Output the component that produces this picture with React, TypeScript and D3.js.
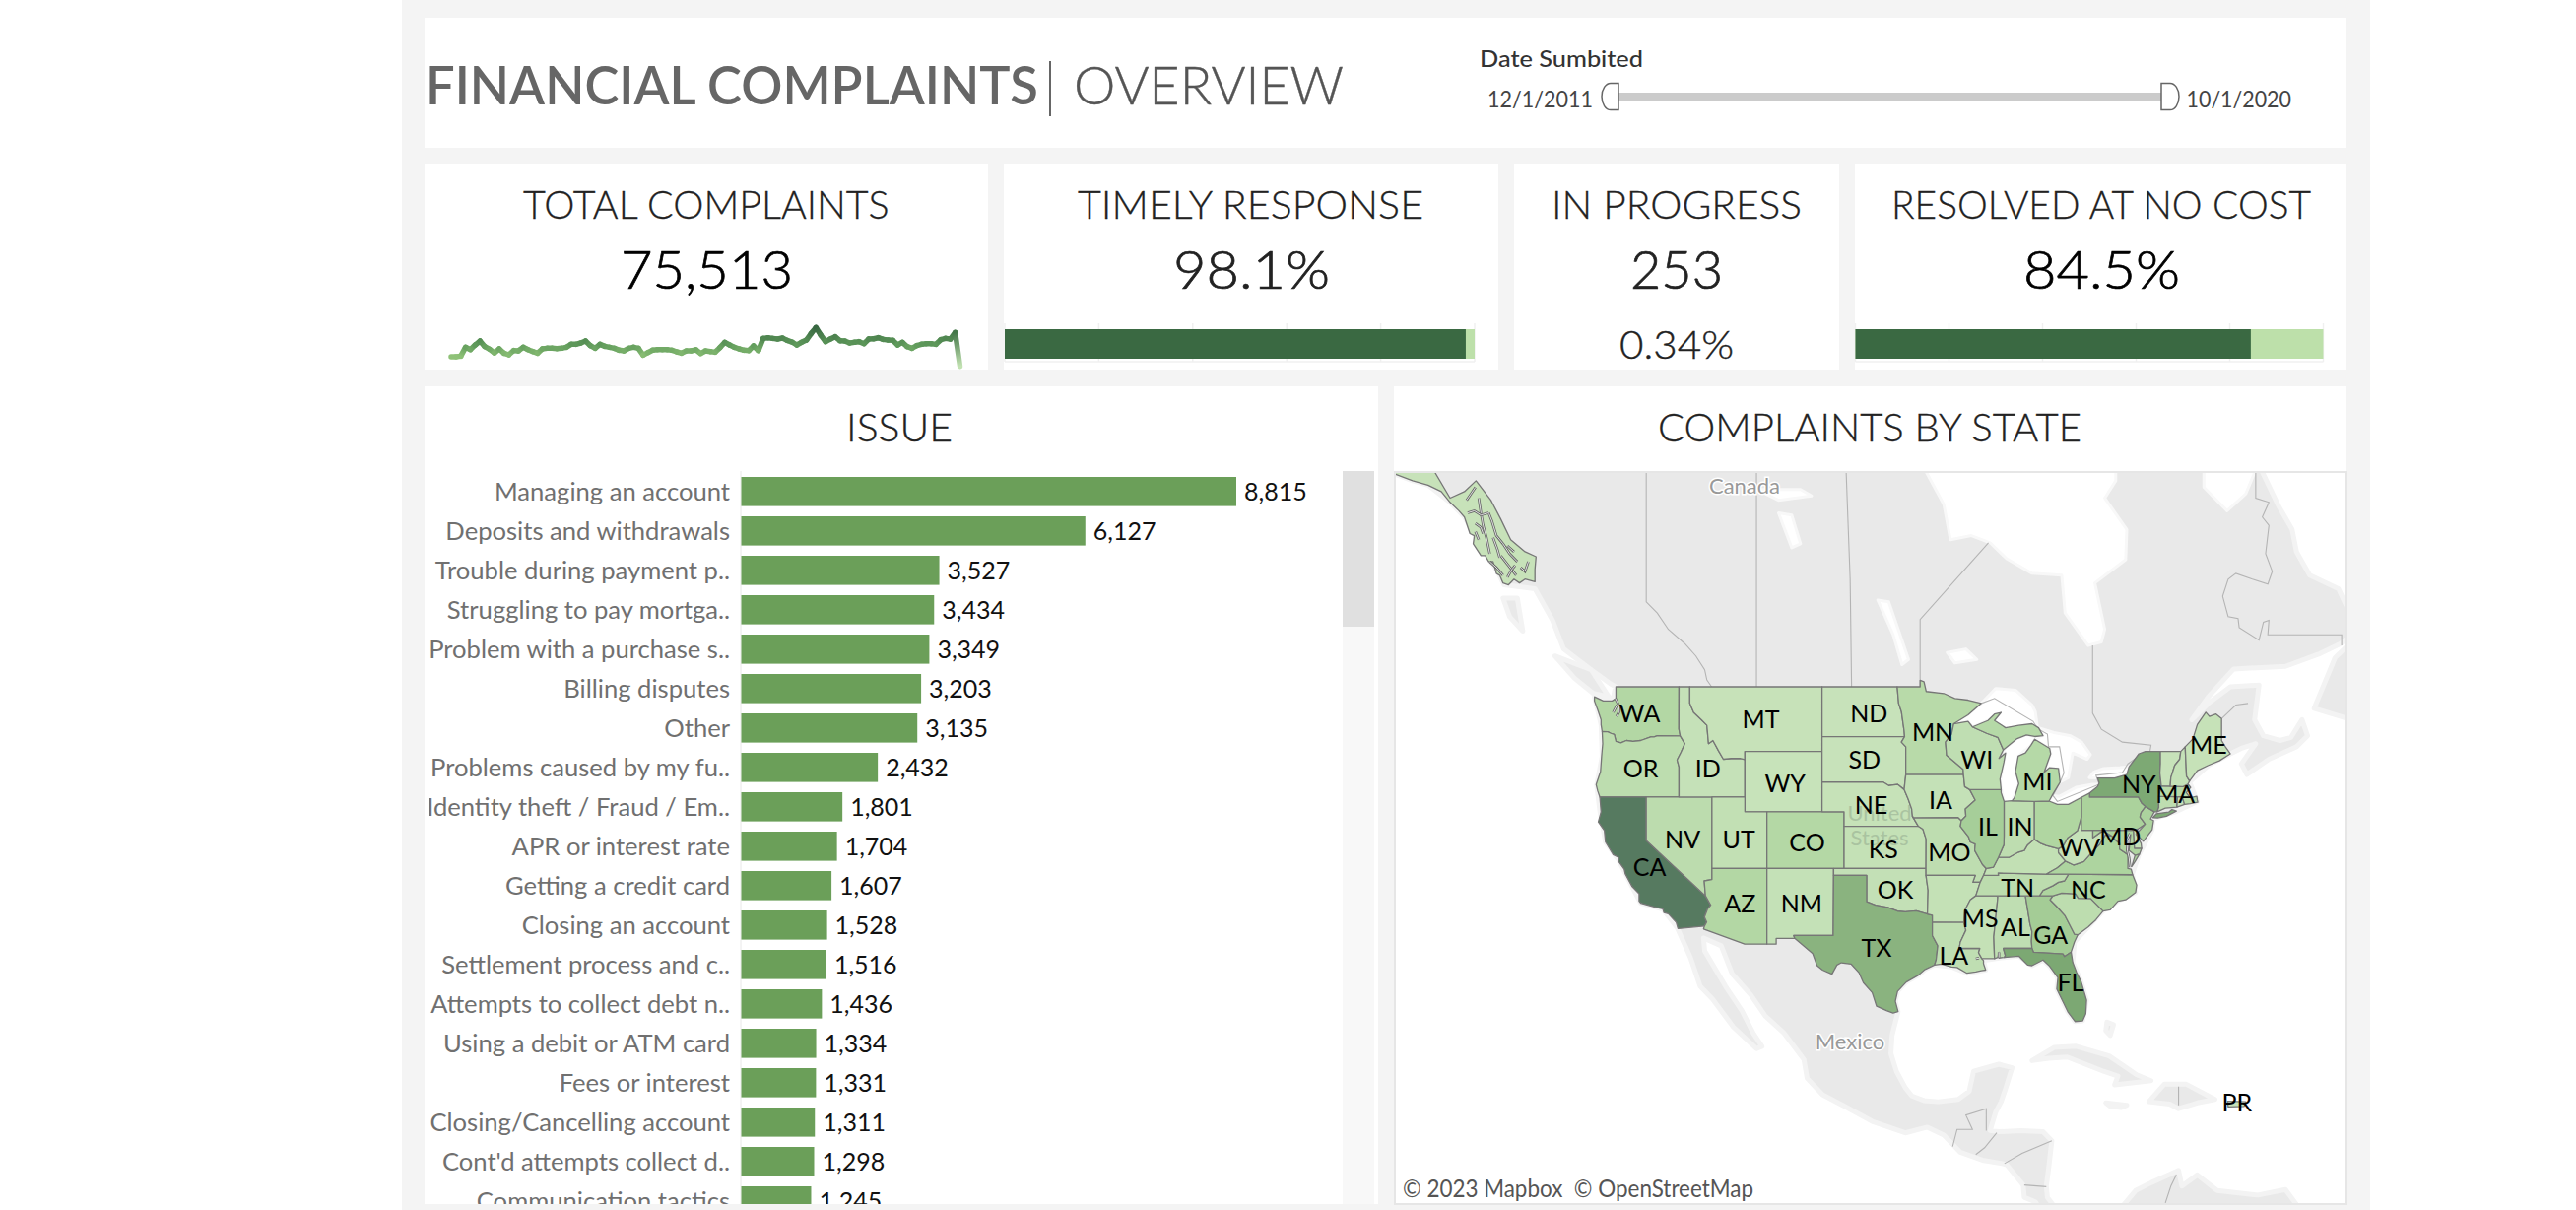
import * as d3 from "d3";

type LonLat = [number, number];

const FONT = "Lato, 'Open Sans', sans-serif";

// ---- data ----
const issueNames = [
  "Managing an account",
  "Deposits and withdrawals",
  "Trouble during payment p..",
  "Struggling to pay mortga..",
  "Problem with a purchase s..",
  "Billing disputes",
  "Other",
  "Problems caused by my fu..",
  "Identity theft / Fraud / Em..",
  "APR or interest rate",
  "Getting a credit card",
  "Closing an account",
  "Settlement process and c..",
  "Attempts to collect debt n..",
  "Using a debit or ATM card",
  "Fees or interest",
  "Closing/Cancelling account",
  "Cont'd attempts collect d..",
  "Communication tactics",
];
const issueCounts = [
  8815, 6127, 3527, 3434, 3349, 3203, 3135, 2432, 1801, 1704, 1607, 1528, 1516,
  1436, 1334, 1331, 1311, 1298, 1245,
];

// complaints per month, Dec 2011 - Oct 2020 (estimated from the sparkline)
const monthlyComplaints = [
  429, 429, 455, 806, 715, 897, 1053, 832, 728, 585, 741, 572, 507, 676, 663,
  806, 715, 637, 572, 741, 767, 767, 754, 767, 806, 923, 923, 975, 1053, 871,
  767, 923, 845, 806, 767, 689, 663, 767, 806, 767, 494, 598, 689, 715, 715,
  715, 689, 624, 572, 663, 663, 702, 559, 663, 637, 611, 793, 1001, 897, 806,
  741, 689, 676, 858, 676, 1157, 1183, 1157, 1131, 1170, 1079, 1014, 897, 1001,
  1092, 1352, 1586, 1287, 1027, 1131, 1222, 1066, 1053, 975, 1001, 1027, 949,
  1131, 1144, 1183, 1118, 1092, 1079, 897, 1001, 832, 767, 871, 923, 949, 949,
  923, 1105, 1157, 1131, 1391, 52,
];

const timelyShare = 0.981;
const noCostShare = 0.845;
const shareTicks = [0, 0.2, 0.4, 0.6, 0.8, 1];

const stateCounts: Record<string, number> = {
  AK: 120, AL: 700, AR: 350, AZ: 1700, CA: 10500, CO: 1600, CT: 800, DE: 250,
  FL: 6500, GA: 3300, IA: 300, ID: 250, IL: 3000, IN: 800, KS: 350, KY: 500,
  LA: 700, MA: 1300, MD: 2000, ME: 200, MI: 1500, MN: 1300, MO: 800, MS: 350,
  MT: 120, NC: 2100, ND: 80, NE: 200, NH: 300, NJ: 2300, NM: 300, NV: 1000,
  NY: 6400, OH: 1900, OK: 400, OR: 900, PA: 2500, PR: 200, RI: 250, SC: 900,
  SD: 90, TN: 1000, TX: 5500, UT: 500, VA: 2200, VT: 100, WA: 1700, WI: 700,
  WV: 150, WY: 70,
};

const stateRings: Record<string, LonLat[]> = {
  WA: [[-124.7,48.4],[-123.9,48.15],[-123.1,48.15],[-122.75,48.3],[-122.75,49],[-117.03,49],[-117.04,46.42],[-116.92,45.99],[-118.98,46],[-119.3,45.93],[-119.6,45.92],[-120.5,45.7],[-121.2,45.65],[-121.8,45.7],[-122.3,45.55],[-122.75,45.65],[-122.9,46.08],[-123.2,46.15],[-123.5,46.25],[-124,46.27],[-124.1,46.7],[-124.1,47],[-124.4,47.6],[-124.7,48.15]],
  OR: [[-124,46.27],[-123.5,46.25],[-123.2,46.15],[-122.9,46.08],[-122.75,45.65],[-122.3,45.55],[-121.8,45.7],[-121.2,45.65],[-120.5,45.7],[-119.6,45.92],[-119.3,45.93],[-118.98,46],[-116.92,45.99],[-116.5,45.5],[-116.85,44.95],[-117.2,44.45],[-117.03,44],[-117.03,42],[-124.21,42],[-124.4,42.4],[-124.55,42.84],[-124.15,43.7],[-124.05,44.7],[-123.95,45.5]],
  CA: [[-124.21,42],[-120,42],[-120,39],[-114.63,35],[-114.15,34.3],[-114.45,34],[-114.72,33.4],[-114.52,33.03],[-114.72,32.72],[-117.12,32.53],[-117.28,33],[-118,33.65],[-118.4,33.75],[-118.5,34.03],[-119.2,34.15],[-120.5,34.45],[-120.65,34.6],[-120.65,35.15],[-121.3,35.7],[-121.9,36.6],[-122,36.95],[-122.5,37.5],[-122.5,37.8],[-123,38],[-123.7,38.9],[-123.8,39.7],[-124.35,40.3],[-124.1,41]],
  NV: [[-120,42],[-114.04,42],[-114.04,36.2],[-114.74,36.1],[-114.63,35],[-120,39]],
  ID: [[-117.03,49],[-116.05,49],[-116.05,48],[-115.7,47.45],[-115,47],[-114.5,46.65],[-114.35,45.5],[-113.95,45.7],[-113.45,45.05],[-113,44.5],[-112.3,44.55],[-111.5,44.55],[-111.05,44.47],[-111.05,42],[-117.03,42],[-117.03,44],[-117.2,44.45],[-116.85,44.95],[-116.5,45.5],[-116.92,45.99],[-117.04,46.42]],
  MT: [[-116.05,49],[-104.05,49],[-104.05,45],[-111.05,45],[-111.05,44.47],[-111.5,44.55],[-112.3,44.55],[-113,44.5],[-113.45,45.05],[-113.95,45.7],[-114.35,45.5],[-114.5,46.65],[-115,47],[-115.7,47.45],[-116.05,48]],
  WY: [[-111.05,45],[-104.05,45],[-104.05,41],[-111.05,41]],
  UT: [[-114.04,42],[-111.05,42],[-111.05,41],[-109.05,41],[-109.05,37],[-114.04,37]],
  CO: [[-109.05,41],[-102.05,41],[-102.05,37],[-109.05,37]],
  AZ: [[-114.04,37],[-109.05,37],[-109.05,31.33],[-111.07,31.33],[-114.8,32.5],[-114.72,32.72],[-114.52,33.03],[-114.72,33.4],[-114.45,34],[-114.15,34.3],[-114.63,35],[-114.74,36.1],[-114.04,36.2]],
  NM: [[-109.05,37],[-103,37],[-103.04,32],[-106.62,32],[-106.53,31.78],[-108.21,31.78],[-108.21,31.33],[-109.05,31.33]],
  ND: [[-104.05,49],[-97.23,49],[-97.1,48],[-96.85,47.5],[-96.6,46.3],[-96.56,45.94],[-104.05,45.94]],
  SD: [[-104.05,45.94],[-96.56,45.94],[-96.85,45.6],[-96.45,45.3],[-96.45,43.5],[-96.6,42.5],[-97.2,42.85],[-98,42.77],[-98.5,43],[-104.05,43]],
  NE: [[-104.05,43],[-98.5,43],[-98,42.77],[-97.2,42.85],[-96.6,42.5],[-96.25,41.9],[-95.92,41.2],[-95.85,40.7],[-95.31,40],[-102.05,40],[-102.05,41],[-104.05,41]],
  KS: [[-102.05,40],[-95.31,40],[-94.9,39.8],[-94.61,39.1],[-94.62,37],[-102.05,37]],
  OK: [[-103,37],[-94.62,37],[-94.62,36.5],[-94.43,35.4],[-94.49,33.64],[-95.5,33.88],[-96.5,33.8],[-97.2,33.85],[-98.1,34.13],[-99.2,34.3],[-100,34.56],[-100,36.5],[-103,36.5]],
  TX: [[-106.62,32],[-103.04,32],[-103,36.5],[-100,36.5],[-100,34.56],[-99.2,34.3],[-98.1,34.13],[-97.2,33.85],[-96.5,33.8],[-95.5,33.88],[-94.49,33.64],[-94.04,33.55],[-94.04,31.99],[-93.55,31.2],[-93.7,30.1],[-93.85,29.7],[-94.7,29.35],[-95.3,28.9],[-96.4,28.35],[-97.2,27.6],[-97.4,26.8],[-97.15,25.96],[-97.6,25.85],[-98.2,26.05],[-99.1,26.4],[-99.5,27.5],[-100.3,28.3],[-100.7,29.1],[-101.4,29.77],[-102.3,29.88],[-102.7,29.7],[-103.15,28.98],[-104,29.3],[-104.5,29.65],[-104.9,30.6],[-106,31.4],[-106.53,31.78]],
  MN: [[-97.23,49],[-95.15,49],[-95.15,49.38],[-94.8,49.3],[-94.6,48.72],[-93,48.6],[-92,48.3],[-90.8,48.2],[-89.6,48],[-90.8,47.3],[-92.1,46.75],[-92.3,46.1],[-92.85,45.6],[-92.75,44.75],[-91.25,43.85],[-91.22,43.5],[-96.45,43.5],[-96.45,45.3],[-96.85,45.6],[-96.56,45.94],[-96.6,46.3],[-96.85,47.5],[-97.1,48]],
  IA: [[-96.45,43.5],[-91.22,43.5],[-91.1,42.7],[-90.65,42.5],[-90.15,41.8],[-91.05,41.2],[-91,40.7],[-91.42,40.38],[-91.72,40.6],[-95.77,40.58],[-95.85,40.7],[-95.92,41.2],[-96.25,41.9],[-96.6,42.5]],
  MO: [[-95.77,40.58],[-91.72,40.6],[-91.42,40.38],[-91.5,40],[-90.75,39.25],[-90.6,38.9],[-90.15,38.75],[-90.2,38.3],[-89.5,37.3],[-89.15,37],[-89.4,36.5],[-89.7,36],[-90.37,36],[-90.15,36.5],[-94.62,36.5],[-94.62,37],[-94.61,39.1],[-94.9,39.8],[-95.31,40],[-95.85,40.7]],
  AR: [[-94.62,36.5],[-90.15,36.5],[-90.37,36],[-89.7,36],[-90.1,35],[-90.6,34.7],[-91.1,33.9],[-91.17,33],[-94.04,33.02],[-94.04,33.55],[-94.49,33.64],[-94.43,35.4]],
  LA: [[-94.04,33.02],[-91.17,33],[-91,32.4],[-91.5,31.5],[-91.6,31],[-89.73,31],[-89.85,30.67],[-89.55,30.2],[-89.4,30.05],[-89.4,29.8],[-89.2,29.3],[-89.6,29.25],[-90.1,29.15],[-90.9,29.05],[-91.8,29.5],[-92.3,29.55],[-93.2,29.77],[-93.85,29.7],[-93.7,30.1],[-93.55,31.2],[-94.04,31.99]],
  MS: [[-90.1,35],[-88.2,35],[-88.1,34.9],[-88.47,31.9],[-88.4,30.2],[-89.55,30.2],[-89.85,30.67],[-89.73,31],[-91.6,31],[-91.5,31.5],[-91,32.4],[-91.17,33],[-91.1,33.9],[-90.6,34.7]],
  AL: [[-88.2,35],[-85.6,35],[-85.18,32.87],[-85,32.3],[-85.05,31.55],[-85,31],[-87.6,31],[-87.42,30.45],[-87.5,30.3],[-88,30.25],[-88,30.7],[-88.1,30.3],[-88.4,30.2],[-88.47,31.9],[-88.1,34.9]],
  GA: [[-85.6,35],[-83.1,35],[-83.35,34.7],[-82.75,34.2],[-82,33.5],[-81.15,32.1],[-80.85,32.05],[-81.15,31.5],[-81.45,30.72],[-82.05,30.36],[-82.2,30.57],[-84.86,30.7],[-85,31],[-85.05,31.55],[-85,32.3],[-85.18,32.87]],
  FL: [[-87.6,31],[-85,31],[-84.86,30.7],[-82.2,30.57],[-82.05,30.36],[-81.45,30.72],[-81.3,29.9],[-80.95,29.1],[-80.55,28.4],[-80.05,26.9],[-80.12,25.8],[-80.4,25.2],[-81.1,25.15],[-81.75,25.95],[-82.15,26.7],[-82.75,27.8],[-82.65,28.7],[-83.4,29.6],[-84,30.1],[-85,29.65],[-85.4,29.7],[-86.2,30.4],[-87.5,30.3],[-87.42,30.45]],
  SC: [[-83.1,35],[-82.3,35.2],[-81.05,35.15],[-80.8,34.82],[-79.68,34.8],[-78.55,33.86],[-79.2,33.2],[-79.9,32.65],[-80.85,32.05],[-81.15,32.1],[-82,33.5],[-82.75,34.2],[-83.35,34.7]],
  NC: [[-84.32,35],[-83.1,35],[-82.3,35.2],[-81.05,35.15],[-80.8,34.82],[-79.68,34.8],[-78.55,33.86],[-77.9,33.95],[-77.2,34.6],[-76.5,34.7],[-75.6,35.25],[-75.5,35.8],[-75.87,36.55],[-81.68,36.59],[-82.05,36.1],[-82.6,36],[-83.1,35.75],[-84,35.4]],
  TN: [[-89.7,36],[-89.4,36.5],[-88.05,36.5],[-88.07,36.68],[-83.68,36.6],[-81.68,36.59],[-82.05,36.1],[-82.6,36],[-83.1,35.75],[-84,35.4],[-84.32,35],[-88.2,35],[-90.1,35]],
  KY: [[-89.4,36.5],[-89.15,37],[-88.5,37.1],[-88.05,37.8],[-87.1,37.8],[-86.3,38.15],[-85.7,38.3],[-85.4,38.7],[-84.8,39.1],[-84.2,38.8],[-83.7,38.65],[-82.6,38.42],[-82.6,38.15],[-81.97,37.54],[-82.7,37.05],[-83.68,36.6],[-88.07,36.68],[-88.05,36.5]],
  VA: [[-83.68,36.6],[-81.68,36.59],[-75.87,36.55],[-76,36.95],[-76.3,37],[-76.3,37.6],[-76.3,38],[-77.05,38.4],[-77.05,38.8],[-77.5,39.1],[-77.75,39.32],[-78.35,39.4],[-78.85,38.75],[-79.3,38.4],[-80.3,37.5],[-81.2,37.25],[-81.97,37.54],[-82.7,37.05]],
  WV: [[-82.6,38.42],[-82.2,38.6],[-81.75,39.2],[-80.87,39.7],[-80.52,40.64],[-80.52,39.72],[-79.48,39.72],[-79.48,39.2],[-78.75,39.6],[-78.4,39.62],[-77.75,39.32],[-78.35,39.4],[-78.85,38.75],[-79.3,38.4],[-80.3,37.5],[-81.2,37.25],[-81.97,37.54],[-82.6,38.15]],
  MD: [[-79.48,39.72],[-75.79,39.72],[-75.7,38.46],[-75.05,38.45],[-75.25,38.03],[-75.65,37.95],[-76.2,38.3],[-76.05,39.4],[-76.45,39.1],[-76.4,38.3],[-76.3,38],[-77.05,38.4],[-77.05,38.8],[-77.5,39.1],[-77.75,39.32],[-78.4,39.62],[-78.75,39.6],[-79.48,39.2]],
  DE: [[-75.79,39.72],[-75.4,39.8],[-75.55,39.45],[-75.1,38.8],[-75.05,38.45],[-75.7,38.46]],
  PA: [[-80.52,41.98],[-79.76,42.27],[-79.76,42],[-75.35,42],[-75.05,41.6],[-74.7,41.36],[-75.1,40.95],[-75.2,40.65],[-74.72,40.15],[-75.4,39.8],[-75.79,39.72],[-80.52,39.72],[-80.52,40.64]],
  NJ: [[-74.7,41.36],[-73.9,41],[-74.25,40.5],[-73.97,40.4],[-74.1,39.75],[-74.9,38.95],[-75.55,39.45],[-74.72,40.15],[-75.2,40.65],[-75.1,40.95]],
  NY: [[-79.76,42.27],[-79.05,42.7],[-78.9,42.95],[-79.05,43.27],[-77.5,43.27],[-76.4,43.5],[-76.2,44],[-75.3,44.85],[-74.7,45],[-73.35,45],[-73.35,44.2],[-73.4,43.6],[-73.27,42.75],[-73.5,42.05],[-73.5,41.3],[-73.65,41],[-73.9,41],[-74.7,41.36],[-75.05,41.6],[-75.35,42],[-79.76,42]],
  LI: [[-74.03,40.6],[-73.7,40.87],[-72.6,40.98],[-72.3,41.15],[-71.9,41.05],[-72.8,40.7],[-73.6,40.58]],
  CT: [[-73.5,42.05],[-71.8,42.02],[-71.85,41.32],[-72.9,41.25],[-73.65,41],[-73.5,41.3]],
  RI: [[-71.8,42.02],[-71.38,42.02],[-71.15,41.5],[-71.85,41.32]],
  MA: [[-73.5,42.05],[-73.27,42.75],[-71.3,42.7],[-70.85,42.87],[-70.6,42.65],[-71,42.3],[-70.65,41.95],[-70.05,42.05],[-70,41.8],[-69.95,41.65],[-70.65,41.55],[-71.15,41.5],[-71.38,42.02],[-71.8,42.02]],
  VT: [[-73.35,45],[-71.5,45],[-71.6,44.5],[-72.05,44.1],[-72.4,43.3],[-72.46,42.73],[-73.27,42.75],[-73.4,43.6],[-73.35,44.2]],
  NH: [[-71.5,45],[-71.1,45.3],[-70.98,43.4],[-70.7,43.07],[-70.85,42.87],[-71.3,42.7],[-72.46,42.73],[-72.4,43.3],[-72.05,44.1],[-71.6,44.5]],
  ME: [[-71.1,45.3],[-70.4,45.8],[-70,46.7],[-69.23,47.46],[-68.9,47.2],[-68.3,47.35],[-67.8,47.07],[-67.8,45.7],[-67.45,45.3],[-67,44.85],[-68,44.4],[-69,44.1],[-70,43.75],[-70.7,43.07],[-70.98,43.4]],
  OH: [[-84.8,41.7],[-83.45,41.73],[-82.7,41.5],[-81.7,41.5],[-80.52,41.98],[-80.52,40.64],[-80.87,39.7],[-81.75,39.2],[-82.2,38.6],[-82.6,38.42],[-83.7,38.65],[-84.2,38.8],[-84.8,39.1]],
  IN: [[-87.53,41.7],[-86.8,41.76],[-84.8,41.7],[-84.8,39.1],[-85.4,38.7],[-85.7,38.3],[-86.3,38.15],[-87.1,37.8],[-88.05,37.8],[-87.55,38.7],[-87.53,39.35]],
  IL: [[-90.65,42.5],[-87.8,42.5],[-87.8,42.3],[-87.53,41.7],[-87.53,39.35],[-87.55,38.7],[-88.05,37.8],[-88.5,37.1],[-89.15,37],[-89.5,37.3],[-90.2,38.3],[-90.15,38.75],[-90.6,38.9],[-90.75,39.25],[-91.5,40],[-91.42,40.38],[-91,40.7],[-91.05,41.2],[-90.15,41.8]],
  WI: [[-92.3,46.1],[-92.1,46.75],[-90.8,46.9],[-90.4,46.55],[-89.1,46.15],[-88.1,45.9],[-87.6,45.1],[-88,44.55],[-87.4,44.9],[-87.55,44.3],[-87.9,43.2],[-87.8,42.5],[-90.65,42.5],[-91.1,42.7],[-91.22,43.5],[-91.25,43.85],[-92.75,44.75],[-92.85,45.6]],
  MI: [[-86.8,41.76],[-84.8,41.7],[-83.45,41.73],[-83.1,42.2],[-82.45,43],[-82.6,43.9],[-83.4,43.95],[-83.9,43.65],[-83.3,44.85],[-83.4,45.2],[-84.75,45.78],[-85.1,45.4],[-85.6,44.9],[-86.25,44.7],[-86.5,43.7],[-86.2,42.9],[-86.6,41.95]],
  UP: [[-90.4,46.55],[-89,46.95],[-88.4,47.35],[-87.8,47.45],[-88.4,46.95],[-87.4,46.5],[-86.2,46.65],[-85,46.75],[-84.4,46.5],[-84,46],[-84.75,45.95],[-85.5,46.05],[-86.4,45.8],[-87.6,45.1],[-88.1,45.9],[-89.1,46.15]],
  VE: [[-75.95,37.15],[-75.65,37.95],[-75.25,38.03],[-75.65,37.5]],
  AK: [[-145,60.4],[-142.8,60.1],[-141.2,59.8],[-139.8,59.6],[-138.6,59.3],[-137.8,58.8],[-137,58.4],[-136.5,58.1],[-136,57.3],[-135.6,57.2],[-135.7,56.8],[-135,56.2],[-134.6,56.2],[-134.3,55.9],[-133.9,55.9],[-133.6,55.3],[-133.3,55.2],[-133,54.8],[-132.5,54.7],[-132,55],[-131.5,54.8],[-131,55],[-130.1,54.87],[-130.1,55.5],[-130,56.15],[-131,56.4],[-132.3,57],[-133.2,58],[-134.1,58.9],[-135.45,59.8],[-136.5,59.3],[-137.8,59],[-139.2,60.2],[-141,60.5],[-145,61.5]],
  PR: [[-67.25,18.45],[-65.6,18.4],[-65.75,18],[-67.2,17.95]],
};
// extra rings (Long Island, Upper Peninsula, Virginia's eastern shore) belong to a state
const ringOwner: Record<string, string> = { LI: "NY", UP: "MI", VE: "VA" };

const stateLabels: [string, number, number][] = [
  ["WA",-120.6,47.4],["MT",-109.6,47],["ND",-99.8,47.4],["MN",-94,46.2],["OR",-120.5,43.9],
  ["ID",-114.4,43.9],["WY",-107.4,42.9],["SD",-100.2,44.5],["WI",-90,44.5],["MI",-84.5,43.06],
  ["IA",-93.3,41.8],["NE",-99.6,41.46],["NY",-75.3,42.86],["MA",-72,42.2],["ME",-69,45.4],
  ["IL",-89,40],["IN",-86.1,40],["NV",-116.7,39.1],["UT",-111.6,39.1],["CO",-105.4,38.86],
  ["KS",-98.5,38.4],["MO",-92.5,38.16],["WV",-80.7,38.5],["MD",-77,39.26],["CA",-119.7,37.1],
  ["AZ",-111.5,34.4],["NM",-105.9,34.4],["OK",-97.4,35.44],["TN",-86.3,35.6],["NC",-79.9,35.44],
  ["MS",-89.7,33.3],["AL",-86.5,32.6],["GA",-83.3,32],["TX",-99.1,31.07],["LA",-92.1,30.4],
  ["FL",-81.5,28.3],["PR",-66.4,18.3],
];

const landRings: LonLat[][] = [
  [[-150,62],[-145,60.3],[-142.8,60.1],[-141.2,59.8],[-139.8,59.6],[-137.8,58.8],[-136.5,58.1],[-134.5,56.2],[-133.6,55.5],[-132.9,54.7],[-130.1,54.5],[-128.5,52.8],[-127.5,51.2],[-125,50],[-123.3,49.2],[-122.8,49],[-123,48.3],[-124.7,48.4],[-124.1,46.7],[-124,44.7],[-124.5,42.8],[-124.2,41],[-123.7,38.9],[-122.5,37.6],[-121.3,35.7],[-120.5,34.45],[-118.5,34],[-117.2,32.6],[-116,30.3],[-115.1,28],[-114,27],[-112.1,24.7],[-110,22.9],[-109.5,23.1],[-110.3,24.2],[-111.3,26],[-112.8,28],[-114.7,30.8],[-114.8,31.8],[-113.2,31.2],[-112.2,29],[-110.5,27.3],[-109.2,25.6],[-107.5,24.2],[-105.7,22],[-105.4,20.4],[-104,19],[-102,18],[-99.5,16.7],[-96.5,15.7],[-94.5,16.2],[-93,15.5],[-91.5,14],[-89.5,13.3],[-87.7,13],[-87.3,12.9],[-85.8,11.1],[-85.7,10],[-84.7,9.6],[-84,8.5],[-83,8.3],[-83,9.2],[-83.6,10],[-83.7,11],[-83.5,12.5],[-83.2,15],[-84,15.8],[-86,15.9],[-88,15.8],[-88.8,15.9],[-88.3,17.5],[-87.8,18.4],[-87.4,19.5],[-86.8,21.3],[-88,21.6],[-90.3,21],[-90.7,19.3],[-91.7,18.6],[-93.5,18.4],[-94.8,18.5],[-95.9,18.9],[-96.5,19.6],[-97.3,21],[-97.8,22.5],[-97.7,24],[-97.15,25.96],[-97.4,26.8],[-97.2,27.6],[-96.4,28.35],[-95.3,28.9],[-94.7,29.35],[-93.85,29.7],[-92.3,29.55],[-90.9,29.05],[-89.2,29.3],[-89.4,30.05],[-88,30.25],[-86.2,30.4],[-85,29.65],[-84,30.1],[-83.4,29.6],[-82.65,28.7],[-82.75,27.8],[-81.75,25.95],[-81.1,25.15],[-80.4,25.2],[-80.05,26.9],[-80.55,28.4],[-81.3,29.9],[-81.15,31.5],[-79.9,32.65],[-78.55,33.86],[-77.2,34.6],[-75.6,35.25],[-75.9,36.6],[-75.3,38],[-74.1,39.75],[-74,40.5],[-72,41],[-70,41.7],[-70.7,43],[-69,44.1],[-67,44.85],[-66,45.2],[-64.7,45.5],[-66,44.2],[-65.5,43.5],[-63.5,44.5],[-61,45.3],[-60,46],[-60.5,47],[-61.5,45.9],[-62.5,45.7],[-64,46],[-64.8,47],[-64.4,49.1],[-67,49],[-69,48],[-70.5,47],[-69,48.4],[-66.7,50.05],[-62,50.2],[-59,50.9],[-57,51.5],[-56,52],[-56,53],[-57.2,54.5],[-59.8,55.2],[-61,56.4],[-61.4,57.5],[-62.6,58.6],[-64.2,60.3],[-64.2,62]],
  [[-128.3,50.8],[-125,50],[-123.4,48.4],[-124.8,48.6],[-126.5,49.5]],
  [[-133,54],[-131.7,54],[-131.2,52.2],[-132.4,53]],
  [[-59.4,47.7],[-57.5,50.7],[-56,51.6],[-55.5,50],[-53,48.5],[-53,46.7],[-55.5,46.9]],
  [[-85,21.9],[-83,23],[-81,23.1],[-78,22.3],[-75.5,20.7],[-74.2,20.2],[-77.5,19.85],[-77.2,20.6],[-78.5,21],[-81.8,22.2],[-83.5,22.1]],
  [[-74.4,18.4],[-73,19.9],[-71,19.9],[-68.4,18.6],[-70,18.3],[-71.7,17.8],[-72.5,18.2]],
  [[-78.3,18.3],[-76.4,18.1],[-76.9,17.9],[-77.9,18]],
  [[-78.2,25.1],[-77.6,24.9],[-77.9,24],[-78.3,24.4]],
  [[-82,8],[-77.3,8.6],[-75.6,10.6],[-74.2,11.3],[-71.7,12.4],[-71.4,11],[-70,12],[-68.2,10.6],[-64.5,10.2],[-62,10.7],[-60,8]],
];

const waterRings: LonLat[][] = [
  [[-94.6,62],[-94.6,60.2],[-93,58.7],[-92.4,57],[-90.5,57.2],[-88.8,56.85],[-87.3,56.05],[-85,55.3],[-82.3,55.2],[-82,53.2],[-79.9,51.4],[-78.7,51.6],[-78.4,52.3],[-79.3,54.8],[-76.5,56],[-76.4,57.5],[-78.4,59],[-77.4,59.8],[-77.4,62]],
  [[-69.4,62],[-69.4,59.5],[-67.3,58.4],[-65.6,59.2],[-64.7,60.3],[-64.7,62]],
  [[-92.1,46.75],[-90.8,46.9],[-90.4,46.55],[-89,46.95],[-87.4,46.5],[-84.5,46.5],[-84.7,47.5],[-85,47.9],[-86.5,48.8],[-88.3,48.9],[-89.6,48],[-90.8,47.3]],
  [[-87.9,43],[-87.53,41.65],[-86.8,41.7],[-86.2,42.9],[-86.25,44.7],[-85.1,45.4],[-84.75,45.78],[-84.75,45.95],[-85.5,46.05],[-86.4,45.8],[-87.6,45.1],[-87.4,44.9]],
  [[-84.4,46.5],[-84,46],[-84.75,45.78],[-83.4,45.2],[-83.3,44.85],[-83.9,43.65],[-83.4,43.95],[-82.6,43.9],[-82.45,43],[-81.7,43.3],[-81.3,44.9],[-80,44.5],[-79.7,44.8],[-80.5,45.6],[-81.5,46],[-83,46.2]],
  [[-83.45,41.73],[-82.7,41.5],[-81.7,41.5],[-80.52,41.98],[-79.76,42.27],[-78.9,42.85],[-79.5,42.85],[-81,42.65],[-82.5,42.05],[-83.1,42.1]],
  [[-79.8,43.3],[-79.05,43.27],[-77.5,43.27],[-76.4,43.5],[-76.2,44],[-77,43.95],[-78.5,43.9],[-79.4,43.65]],
  [[-99,53.9],[-98,53.8],[-96.2,50.6],[-96.8,50.3],[-97.6,52]],
  [[-110,59.4],[-106,59.4],[-105,59.1],[-108,58.9]],
  [[-108,58.3],[-106.8,58.2],[-106,56.8],[-106.8,56.6]],
  [[-92.7,51],[-91,51.2],[-90,50.6],[-92,50.4]],
];

const borderLines: LonLat[][] = [
  [[-120,62],[-120,53.8],[-119,53.2],[-118,52.3],[-116.5,51.5],[-115.5,50.8],[-114.7,50],[-114.5,49.4],[-114.07,49]],
  [[-110,62],[-110,49]],
  [[-102,62],[-101.5,55],[-101.37,49]],
  [[-95.15,49],[-95.15,52.85],[-88.95,56.85]],
  [[-79.5,51.4],[-79.5,47.4],[-78.7,46.4],[-76.8,45.6],[-74.2,45.4],[-74.3,45]],
  [[-64.7,62],[-64.7,59],[-63.5,58.8],[-64.1,58.1],[-63.5,57.7],[-63.8,56.3],[-63.2,55.4],[-63.6,54.74],[-65,55],[-66.5,55.3],[-67.2,55],[-67.7,54.1],[-67.2,53],[-66.3,52.9],[-66.2,52.4],[-64.4,51.7],[-64,52.7],[-63.5,52.8],[-63.6,52],[-56.9,52],[-56.9,51.4]],
  [[-67.8,47.07],[-66.5,47.9],[-65.4,48]],
  [[-89.6,48],[-88.4,48.3],[-84.9,46.9],[-84.5,46.45],[-83.6,46.1],[-83.5,45.3],[-82.5,45.3],[-82.1,43.6],[-82.45,43],[-83.1,42.1],[-82.7,41.7],[-78.9,42.85],[-79.2,43.45],[-76.8,43.63],[-76.3,44.2],[-74.7,45]],
  [[-92.2,14.5],[-91.8,16],[-90.4,16],[-91,17.25],[-89.15,17.8],[-89.15,15.9]],
  [[-88.2,15.7],[-89.3,14.4],[-90.1,13.8]],
  [[-87.5,13],[-85.9,13.9],[-83.2,15]],
  [[-85.7,11.1],[-83.7,10.95]],
  [[-71.7,19.7],[-71.7,18.1]],
  [[-71.9,12],[-72.4,11],[-72.9,9.5]],
];

const inlandChannels: LonLat[][] = [
  [[-122.8,48.3],[-122.5,47.9],[-122.45,47.5],[-122.7,47.2]],
  [[-122.65,47.9],[-123,47.45]],
  [[-76.1,39.5],[-76.4,39],[-76.35,38.3],[-76.2,37.8],[-76.1,37.1]],
  [[-90.1,30.2],[-89.8,30.25]],
  [[-88,30.7],[-88,30.3]],
  // Alexander Archipelago
  [[-135.2,59],[-135,58.3],[-134.8,57.7],[-134.5,57.1],[-134.2,56.3]],
  [[-134.3,58.3],[-134,57.9],[-133.6,57.2],[-133,56.8]],
  [[-133.2,56.2],[-132.5,55.7],[-131.8,55.2]],
  [[-136.2,58.3],[-135.6,58.4],[-135,58.2],[-134.3,58.3]],
  [[-133,56.8],[-132.4,56.3],[-131.7,55.9]],
  [[-134.2,55.9],[-133.6,55.6],[-133,55.2]],
  [[-135.5,57.8],[-135,57.6],[-134.8,57.3]],
  [[-133.9,57.1],[-133.5,56.5],[-133.3,56.1]],
  [[-132.6,55.1],[-132.2,55.5],[-131.9,55.7]],
  [[-135.2,57],[-135.5,57.4]],
  [[-131.4,55.6],[-131,55.4],[-130.7,55.9]],
  [[-132.6,56.7],[-132,56.4]],
  [[-136.3,58.9],[-135.9,59.2],[-135.5,59.5]],
];

const W = 2615;
const H = 1228;

const PANEL = { x: 431, right: 2382 };
const MAP = { x: 1416, y: 479, right: 2382, bottom: 1222 };

const projection = d3.geoMercator().scale(641).translate([3013.7, 1327.6]);
const ringPath = d3
  .line<LonLat>()
  .x((d) => projection(d)![0])
  .y((d) => projection(d)![1])
  .curve(d3.curveLinearClosed);
const openPath = d3
  .line<LonLat>()
  .x((d) => projection(d)![0])
  .y((d) => projection(d)![1]);

const stateColor = d3
  .scaleLinear<string>()
  .domain([0, 2000, 3500, 5500, 6500, 10500])
  .range(["#c8e3bb", "#afd5a0", "#a2cb95", "#8ab37f", "#7ca873", "#567a60"]);

const barX = d3.scaleLinear().domain([0, 8815]).range([752.5, 1255]);
const barY = d3
  .scaleBand<string>()
  .domain(issueNames)
  .range([478.8, 478.8 + 40 * issueNames.length])
  .paddingInner(0.26)
  .paddingOuter(0.13);

const sparkX = d3
  .scaleLinear()
  .domain([0, monthlyComplaints.length - 1])
  .range([458, 974.5]);
const sparkY = d3.scaleLinear().domain([0, 1600]).range([373, 332]);
const sparkColor = d3
  .scaleLinear<string>()
  .domain([0, 450, 900, 1600])
  .range(["#c9e6ba", "#8cc075", "#5f9a5b", "#376640"]);

const timelyX = d3.scaleLinear().domain([0, 1]).range([1020, 1497]);
const noCostX = d3.scaleLinear().domain([0, 1]).range([1883.5, 2358.5]);

function Fit({
  x,
  y,
  w,
  size,
  color,
  weight = 400,
  thicken = 0,
  children,
}: {
  x: number;
  y: number;
  w: number;
  size: number;
  color: string;
  weight?: number;
  thicken?: number;
  children: string;
}) {
  return (
    <text
      x={x}
      y={y}
      textLength={w}
      lengthAdjust="spacingAndGlyphs"
      fontFamily={FONT}
      fontSize={size}
      fontWeight={weight}
      fill={color}
      stroke={thicken ? color : "none"}
      strokeWidth={thicken}
    >
      {children}
    </text>
  );
}

function ShareBar({
  scale,
  share,
}: {
  scale: d3.ScaleLinear<number, number>;
  share: number;
}) {
  return (
    <g>
      {shareTicks.map((t) => (
        <line key={t} x1={scale(t)} x2={scale(t)} y1={328} y2={367} stroke="#f0f0f0" strokeWidth={1.5} />
      ))}
      <line x1={scale(0)} x2={scale(1)} y1={367} y2={367} stroke="#f0f0f0" strokeWidth={1.5} />
      <rect x={scale(0)} y={334} width={scale(1) - scale(0)} height={30} fill="#bde0aa" />
      <rect x={scale(0)} y={334} width={scale(share) - scale(0)} height={30} fill="#3a6942" />
    </g>
  );
}

function Sparkline() {
  const pts = monthlyComplaints.map((v, i) => ({ x: sparkX(i), y: sparkY(v), c: sparkColor(v) }));
  return (
    <g>
      <defs>
        {pts.slice(1).map((p, i) => (
          <linearGradient
            key={i}
            id={`spark-${i}`}
            gradientUnits="userSpaceOnUse"
            x1={pts[i].x}
            y1={pts[i].y}
            x2={p.x}
            y2={p.y}
          >
            <stop offset="0" stopColor={pts[i].c} />
            <stop offset="1" stopColor={p.c} />
          </linearGradient>
        ))}
      </defs>
      {pts.slice(1).map((p, i) => (
        <line
          key={i}
          x1={pts[i].x}
          y1={pts[i].y}
          x2={p.x + 0.01}
          y2={p.y + 0.01}
          stroke={`url(#spark-${i})`}
          strokeWidth={5.5}
          strokeLinecap="round"
        />
      ))}
    </g>
  );
}

function MapPanel() {
  return (
    <g>
      <defs>
        <clipPath id="map-clip">
          <rect x={MAP.x} y={MAP.y} width={MAP.right - MAP.x} height={MAP.bottom - MAP.y} />
        </clipPath>
      </defs>
      <rect x={MAP.x} y={MAP.y} width={MAP.right - MAP.x} height={MAP.bottom - MAP.y} fill="#fff" />
      <g clipPath="url(#map-clip)">
        {landRings.map((r, i) => (
          <path key={i} d={ringPath(r)!} fill="#e9e9e9" stroke="#f3f3f3" strokeWidth={5} strokeLinejoin="round" />
        ))}
        {waterRings.map((r, i) => (
          <path key={i} d={ringPath(r)!} fill="#fff" stroke="#f8f8f8" strokeWidth={3} strokeLinejoin="round" />
        ))}
        {borderLines.map((r, i) => (
          <path key={i} d={openPath(r)!} fill="none" stroke="#b4b4b4" strokeWidth={1.1} />
        ))}
        {Object.keys(stateRings).map((id) => (
          <path
            key={id}
            d={ringPath(stateRings[id])!}
            fill={stateColor(stateCounts[ringOwner[id] ?? id])}
            stroke="#767676"
            strokeWidth={1.3}
            strokeLinejoin="round"
          />
        ))}
        {inlandChannels.map((r, i) => (
          <g key={i}>
            <path d={openPath(r)!} fill="none" stroke="#666" strokeWidth={2.6} />
            <path d={openPath(r)!} fill="none" stroke="#fff" strokeWidth={0.8} />
          </g>
        ))}
        <text x={1908} y={833} textAnchor="middle" fontFamily={FONT} fontSize={22} fill="#8a9f86" opacity={0.45}>
          United
        </text>
        <text x={1908} y={858} textAnchor="middle" fontFamily={FONT} fontSize={22} fill="#8a9f86" opacity={0.45}>
          States
        </text>
        {stateLabels.map(([id, lon, lat]) => {
          const [lx, ly] = projection([lon, lat])!;
          return (
            <text key={id} x={lx} y={ly} dy="0.36em" textAnchor="middle" fontFamily={FONT} fontSize={25} fill="#000">
              {id}
            </text>
          );
        })}
        <text
          x={1771}
          y={501}
          textAnchor="middle"
          fontFamily={FONT}
          fontSize={22}
          fill="#999"
          stroke="#fff"
          strokeWidth={3}
          paintOrder="stroke"
        >
          Canada
        </text>
        <text
          x={1878}
          y={1065}
          textAnchor="middle"
          fontFamily={FONT}
          fontSize={22}
          fill="#999"
          stroke="#fff"
          strokeWidth={3}
          paintOrder="stroke"
        >
          Mexico
        </text>
        <rect x={1419} y={1192} width={366} height={27} fill="#fff" opacity={0.65} />
        <Fit x={1424} y={1215} w={356} size={25} color="#555">
          {"© 2023 Mapbox\u00a0\u00a0© OpenStreetMap"}
        </Fit>
      </g>
      <rect
        x={MAP.x}
        y={MAP.y}
        width={MAP.right - MAP.x}
        height={MAP.bottom - MAP.y}
        fill="none"
        stroke="#e6e6e6"
        strokeWidth={2}
      />
    </g>
  );
}

export default function App() {
  return (
    <svg
      width={W}
      height={H}
      viewBox={`0 0 ${W} ${H}`}
      style={{ position: "absolute", left: 0, top: 0, display: "block", background: "#fff" }}
    >
      <rect x={408} y={0} width={1998} height={H} fill="#f4f4f4" />

      {/* header */}
      <rect x={PANEL.x} y={18} width={PANEL.right - PANEL.x} height={132} fill="#fff" />
      <Fit x={432} y={106} w={622} size={54} weight={600} color="#666">
        FINANCIAL COMPLAINTS
      </Fit>
      <line x1={1066} x2={1066} y1={62} y2={118} stroke="#666" strokeWidth={2} />
      <Fit x={1090} y={106} w={274} size={54} weight={300} thicken={0.4} color="#555">
        OVERVIEW
      </Fit>

      {/* date slider */}
      <Fit x={1502} y={68} w={166} size={23} weight={500} color="#333">
        Date Sumbited
      </Fit>
      <Fit x={1510} y={109} w={107} size={23} color="#444">
        12/1/2011
      </Fit>
      <Fit x={2219.5} y={109} w={106.5} size={23} color="#444">
        10/1/2020
      </Fit>
      <rect x={1642} y={94} width={552} height={8} fill="#cbcbcb" />
      <path d="M1643,84.5 H1635 A9,13.5 0 0 0 1635,111.5 H1643 Z" fill="#fff" stroke="#666" strokeWidth={1.5} />
      <path d="M2194,84.5 H2203 A9,13.5 0 0 1 2203,111.5 H2194 Z" fill="#fff" stroke="#666" strokeWidth={1.5} />

      {/* KPI row */}
      <rect x={431} y={166} width={572} height={209} fill="#fff" />
      <rect x={1019} y={166} width={502} height={209} fill="#fff" />
      <rect x={1537} y={166} width={330} height={209} fill="#fff" />
      <rect x={1883} y={166} width={499} height={209} fill="#fff" />

      <Fit x={531} y={222} w={371.5} size={40} weight={300} thicken={0.3} color="#222">
        TOTAL COMPLAINTS
      </Fit>
      <Fit x={1094} y={222} w={351} size={40} weight={300} thicken={0.3} color="#222">
        TIMELY RESPONSE
      </Fit>
      <Fit x={1575} y={222} w={254} size={40} weight={300} thicken={0.3} color="#222">
        IN PROGRESS
      </Fit>
      <Fit x={1920} y={222} w={426} size={40} weight={300} thicken={0.3} color="#222">
        RESOLVED AT NO COST
      </Fit>

      <Fit x={630} y={293} w={175} size={54} weight={300} thicken={0.7} color="#000">
        75,513
      </Fit>
      <Fit x={1191} y={293} w={159} size={54} weight={300} thicken={0.7} color="#222">
        98.1%
      </Fit>
      <Fit x={1655} y={293} w={94} size={54} weight={300} thicken={0.7} color="#222">
        253
      </Fit>
      <Fit x={2054} y={293} w={159} size={54} weight={300} thicken={0.7} color="#000">
        84.5%
      </Fit>
      <Fit x={1644} y={364} w={116} size={40} weight={300} thicken={0.4} color="#222">
        0.34%
      </Fit>

      <Sparkline />
      <ShareBar scale={timelyX} share={timelyShare} />
      <ShareBar scale={noCostX} share={noCostShare} />

      {/* lower panels */}
      <rect x={431} y={392} width={968} height={830} fill="#fff" />
      <rect x={1415} y={392} width={967} height={830} fill="#fff" />

      <Fit x={859} y={448} w={108} size={40} weight={300} thicken={0.3} color="#222">
        ISSUE
      </Fit>
      <Fit x={1683} y={448} w={430} size={40} weight={300} thicken={0.3} color="#222">
        COMPLAINTS BY STATE
      </Fit>

      {/* issue bars */}
      <defs>
        <clipPath id="bars-clip">
          <rect x={431} y={478} width={930} height={744} />
        </clipPath>
      </defs>
      <rect x={1363} y={478} width={32} height={744} fill="#f8f8f8" />
      <rect x={1363} y={478} width={32} height={158} fill="#e0e0e0" />
      <g clipPath="url(#bars-clip)">
        <line x1={752} x2={752} y1={478} y2={1222} stroke="#e8e8e8" strokeWidth={1} />
        {issueNames.map((name, i) => {
          const y = barY(name)!;
          const mid = y + barY.bandwidth() / 2;
          return (
            <g key={name}>
              <rect x={barX(0)} y={y} width={barX(issueCounts[i]) - barX(0)} height={barY.bandwidth()} fill="#6b9f59" />
              <text x={741} y={mid} dy="0.35em" textAnchor="end" fontFamily={FONT} fontSize={25.6} fill="#707070">
                {name}
              </text>
              <text x={barX(issueCounts[i]) + 8} y={mid} dy="0.35em" fontFamily={FONT} fontSize={25} fill="#111">
                {d3.format(",")(issueCounts[i])}
              </text>
            </g>
          );
        })}
      </g>

      <MapPanel />
    </svg>
  );
}
